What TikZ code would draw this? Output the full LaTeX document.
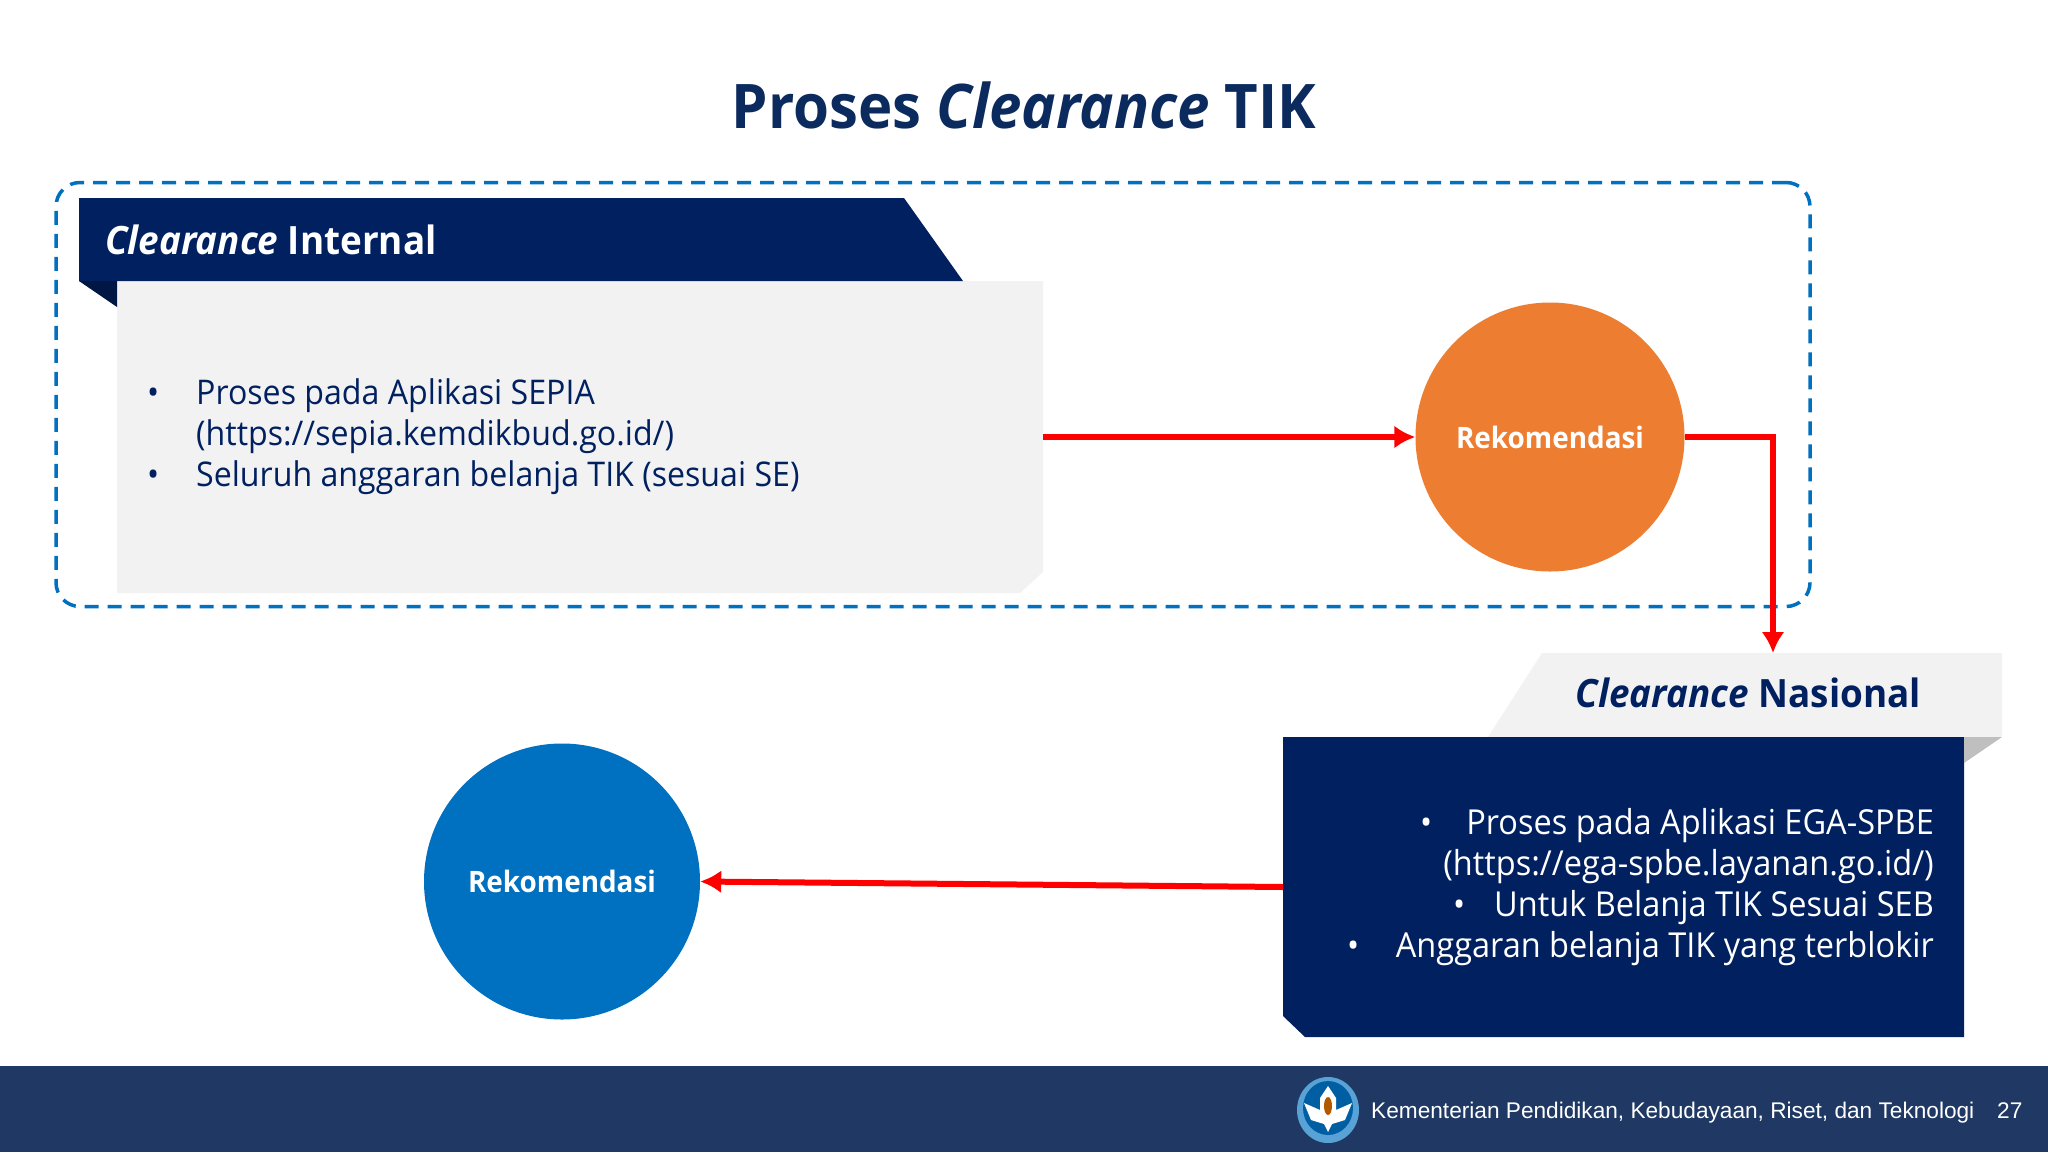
\documentclass[tikz,border=0pt]{standalone}
\usepackage{fontspec}
\setmainfont{Open Sans}[FakeStretch=0.945]
\newfontfamily\footfont{Liberation Sans}
\usetikzlibrary{arrows.meta}
\definecolor{navy}{HTML}{002060}
\definecolor{titleblue}{HTML}{0B2A5E}
\definecolor{footer}{HTML}{1F3864}
\definecolor{panel}{HTML}{F2F2F2}
\definecolor{orangec}{HTML}{ED7D31}
\definecolor{bluec}{HTML}{0070C0}
\tikzset{
  x=1pt,y=-1pt,
  conn/.style={draw=red,line width=6pt,-{Latex[length=21pt,width=23pt]}},
  circ/.style={circle,inner sep=0pt,text=white,font=\fontsize{29.5}{34}\selectfont\bfseries},
  hdr/.style={inner sep=0pt,anchor=base west,font=\fontsize{39}{46}\selectfont\bfseries},
  body/.style={inner sep=0pt,anchor=base west,font=\fontsize{34}{40}\selectfont},
  bodyr/.style={inner sep=0pt,anchor=base east,text=white,font=\fontsize{34.4}{40}\selectfont},
  foot/.style={inner sep=0pt,anchor=base west,text=white,font=\footfont\fontsize{22.65}{26}\selectfont}
}
\begin{document}
\begin{tikzpicture}
\useasboundingbox (0,0) rectangle (2048,1152);
\fill[white] (0,0) rectangle (2048,1152);
% footer
\fill[footer] (0,1066) rectangle (2048,1152);
\node[inner sep=0pt,anchor=base,text=titleblue,font=\fontsize{61.5}{70}\selectfont\bfseries] (title) at (1024,128) {Proses \textit{Clearance} TIK};
% dashed frame
\node[draw=bluec,line width=3.5pt,dash pattern=on 14pt off 9pt,rounded corners=24pt,minimum width=1754pt,minimum height=424pt,inner sep=0pt] (frame) at (933,394.5) {};
% internal
\fill[panel] (117,281) -- (1043,281) -- (1043,572) -- (1020,593) -- (117,593) -- cycle;
\fill[navy] (79,198) -- (904,198) -- (963,281) -- (79,281) -- cycle;
\fill[navy!70!black] (79,281) -- (117,281) -- (117,307) -- cycle;
\coordinate (intR) at (1043,437);
\node[hdr,text=white] (hint) at (105,254) {\textit{Clearance} Internal};
\node[body,text=navy] (b1) at (147,404) {•};
\node[body,text=navy] (t1) at (196,404) {Proses pada Aplikasi SEPIA};
\node[body,text=navy] (t2) at (196,445) {(https://sepia.kemdikbud.go.id/)};
\node[body,text=navy] (b2) at (147,486) {•};
\node[body,text=navy] (t3) at (196,486) {Seluruh anggaran belanja TIK (sesuai SE)};
% circles
\node[circ,fill=orangec,minimum size=269pt] (rek1) at (1550,437) {Rekomendasi};
\node[circ,fill=bluec,minimum size=276pt] (rek2) at (562,881.5) {Rekomendasi};
% national
\fill[panel] (1542,653) -- (2002,653) -- (2002,737) -- (1488,737) -- cycle;
\fill[navy] (1283,737) -- (1964,737) -- (1964,1037) -- (1305,1037) -- (1283,1016) -- cycle;
\fill[black!25] (1964,737) -- (2002,737) -- (1964,763) -- cycle;
\coordinate (natTop) at (1773,653);
\coordinate (natL) at (1283,887);
\coordinate (bend) at (1773,437);
\node[hdr,text=navy,anchor=base east] (hnat) at (1921,707) {\textit{Clearance} Nasional};
\node[bodyr] (n1) at (1934,834) {Proses pada Aplikasi EGA-SPBE};
\node[bodyr] (n2) at (1934,875) {(https://ega-spbe.layanan.go.id/)};
\node[bodyr] (n3) at (1934,916) {Untuk Belanja TIK Sesuai SEB};
\node[bodyr] (n4) at (1934,957) {Anggaran belanja TIK yang terblokir};
\node[body,text=white] (nb1) at (1420,834) {•};
\node[body,text=white] (nb3) at (1453,916) {•};
\node[body,text=white] (nb4) at (1347,957) {•};
% connectors
\draw[conn] (intR) -- (rek1.west);
\draw[conn] (rek1.east) -- (bend) -- (natTop);
\draw[conn] (natL) -- (rek2.east);
% footer content
\fill[bluec!65!white] (1328,1110) ellipse (31pt and 33pt);
\fill[bluec!85!black] (1328,1108) ellipse (25pt and 27pt);
\fill[white] (1328,1086) -- (1336,1098) -- (1336,1110) -- (1352,1103) -- (1345,1120) -- (1332,1124) -- (1328,1132) -- (1324,1124) -- (1311,1120) -- (1304,1103) -- (1320,1110) -- (1320,1098) -- cycle;
\fill[orange!70!black] (1328,1106) ellipse (4pt and 9pt);
\node[foot] (ft) at (1371,1118) {Kementerian Pendidikan, Kebudayaan, Riset, dan Teknologi};
\node[foot] (pg) at (1997,1118) {27};
\end{tikzpicture}
\end{document}
